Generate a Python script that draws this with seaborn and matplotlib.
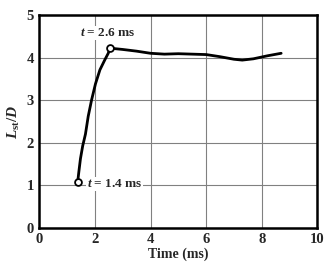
import numpy as np
import pandas as pd
import matplotlib
matplotlib.use('Agg')
import matplotlib.pyplot as plt
import seaborn as sns

# curve
time_ms = [1.38, 1.42, 1.48, 1.56, 1.66, 1.76, 1.88, 2.02, 2.18, 2.36, 2.48, 2.55,
           3.0, 3.5, 4.0, 4.5, 5.0, 5.5, 6.0, 6.5, 7.0, 7.3, 7.7, 8.2, 8.7]
lst_d = [1.07, 1.30, 1.62, 1.92, 2.20, 2.62, 3.00, 3.38, 3.71, 3.95, 4.10, 4.22,
         4.19, 4.15, 4.10, 4.08, 4.09, 4.08, 4.07, 4.02, 3.96, 3.94, 3.97, 4.04, 4.10]
marker_t = [1.38, 2.55]
marker_l = [1.07, 4.22]

df = pd.DataFrame({'t': time_ms, 'L': lst_d})
mk = pd.DataFrame({'t': marker_t, 'L': marker_l})

sns.set_style('white')
plt.rcParams['font.family'] = ['Liberation Serif', 'DejaVu Serif']
plt.rcParams['font.weight'] = 'bold'
plt.rcParams['mathtext.fontset'] = 'custom'
plt.rcParams['mathtext.rm'] = 'Liberation Serif:bold'
plt.rcParams['mathtext.it'] = 'Liberation Serif:bold:italic'

fig = plt.figure(figsize=(3.28, 2.71), dpi=100)
ax = fig.add_axes([39.3 / 328, 1 - 227.7 / 271, (317.3 - 39.3) / 328, (227.7 - 15) / 271])

sns.lineplot(data=df, x='t', y='L', ax=ax, color='black', lw=2, sort=False, zorder=3)
sns.scatterplot(data=mk, x='t', y='L', ax=ax, s=24, facecolor='white',
                edgecolor='black', linewidth=1.3, zorder=4)

ax.set_xlim(0, 10)
ax.set_ylim(0, 5)
ax.set_xticks([0, 2, 4, 6, 8, 10])
ax.set_yticks([0, 1, 2, 3, 4, 5])
ax.grid(True, color='#808080', lw=0.8)
ax.set_axisbelow(True)
for s in ax.spines.values():
    s.set_color('black')
    s.set_linewidth(1.8)
ax.tick_params(direction='in', length=3, width=1.5, labelsize=10.5, pad=4, color='black')

ax.set_xlabel('Time (ms)', fontsize=10, fontweight='bold', labelpad=1)
ax.set_ylabel(r'$L_{\rm st}/D$', fontsize=11, labelpad=3)

ax.text(2.45, 4.58, r'$t$ = 2.6 ms', fontsize=9.5, ha='center', va='center',
        bbox=dict(facecolor='white', edgecolor='none', pad=0.5))
ax.text(1.72, 1.03, r'$t$ = 1.4 ms', fontsize=9.5, ha='left', va='center',
        bbox=dict(facecolor='white', edgecolor='none', pad=0.5))

fig.savefig('out.png', dpi=100)
